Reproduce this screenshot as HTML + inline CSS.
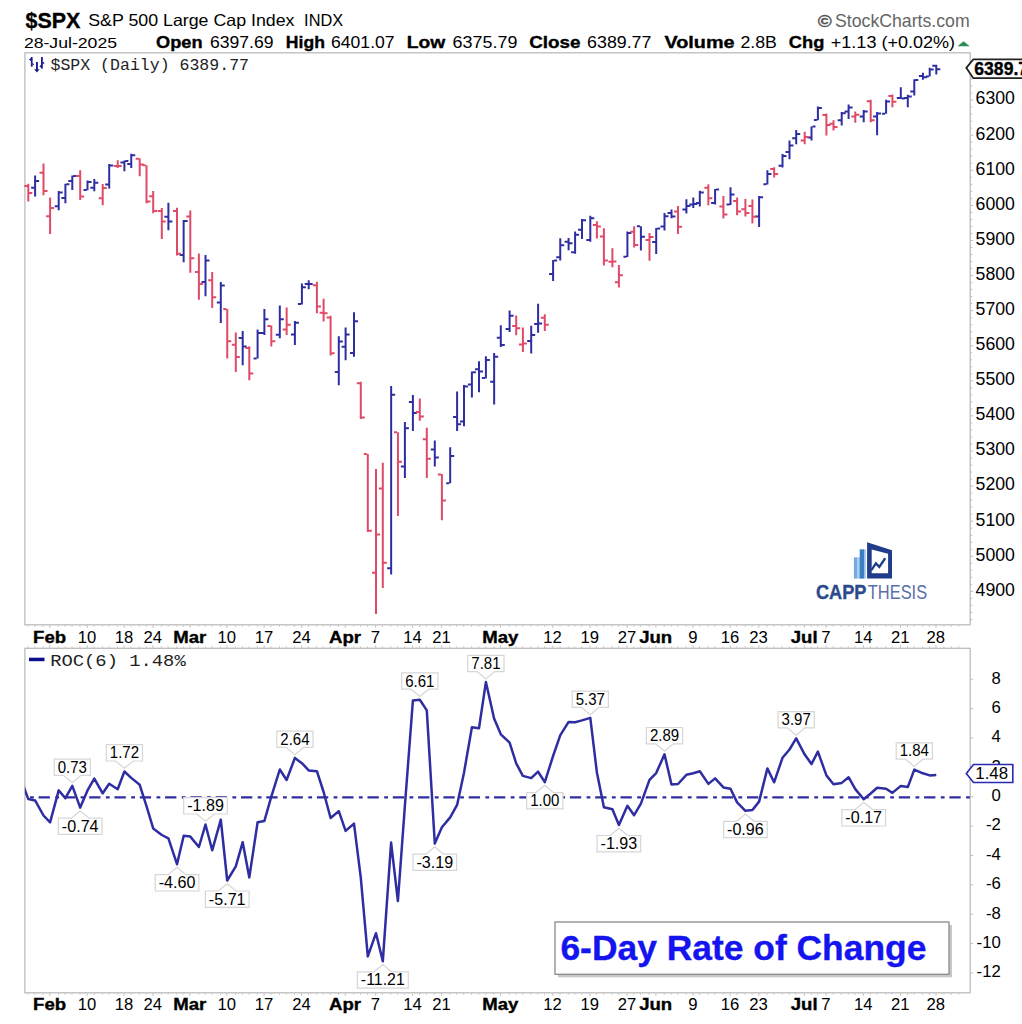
<!DOCTYPE html>
<html><head><meta charset="utf-8"><style>
html,body{margin:0;padding:0;background:#fff;}
svg{display:block;}
</style></head><body>
<svg width="1022" height="1024" viewBox="0 0 1022 1024">
<rect width="1022" height="1024" fill="#fff"/>
<text x="25.5" y="28.0" font-family="Liberation Sans" font-size="21.5" font-weight="bold" stroke="#000" stroke-width="0.35" fill="#000" textLength="54.8" lengthAdjust="spacingAndGlyphs">$SPX</text>
<text x="88.2" y="26.2" font-family="Liberation Sans" font-size="16.5" fill="#000" textLength="206.3" lengthAdjust="spacingAndGlyphs">S&amp;P 500 Large Cap Index</text>
<text x="304.1" y="26.4" font-family="Liberation Sans" font-size="16" fill="#000" textLength="39.0" lengthAdjust="spacingAndGlyphs">INDX</text>
<text x="817.8" y="26.8" font-family="Liberation Sans" font-size="16" font-weight="bold" stroke="#555" stroke-width="0.35" fill="#555" textLength="14.0" lengthAdjust="spacingAndGlyphs">©</text>
<text x="835.0" y="26.6" font-family="Liberation Sans" font-size="19" fill="#666" textLength="134.7" lengthAdjust="spacingAndGlyphs">StockCharts.com</text>
<text x="23.9" y="47.6" font-family="Liberation Sans" font-size="15.5" fill="#000" textLength="93.1" lengthAdjust="spacingAndGlyphs">28-Jul-2025</text>
<text x="156.1" y="47.6" font-family="Liberation Sans" font-size="16.5" font-weight="bold" stroke="#000" stroke-width="0.35" fill="#000" textLength="46.5" lengthAdjust="spacingAndGlyphs">Open</text>
<text x="209.9" y="47.6" font-family="Liberation Sans" font-size="15.8" fill="#000" textLength="63.6" lengthAdjust="spacingAndGlyphs">6397.69</text>
<text x="285.8" y="47.6" font-family="Liberation Sans" font-size="16.5" font-weight="bold" stroke="#000" stroke-width="0.35" fill="#000" textLength="39.1" lengthAdjust="spacingAndGlyphs">High</text>
<text x="331.0" y="47.6" font-family="Liberation Sans" font-size="15.8" fill="#000" textLength="63.6" lengthAdjust="spacingAndGlyphs">6401.07</text>
<text x="406.8" y="47.6" font-family="Liberation Sans" font-size="16.5" font-weight="bold" stroke="#000" stroke-width="0.35" fill="#000" textLength="38.5" lengthAdjust="spacingAndGlyphs">Low</text>
<text x="452.6" y="47.6" font-family="Liberation Sans" font-size="15.8" fill="#000" textLength="64.8" lengthAdjust="spacingAndGlyphs">6375.79</text>
<text x="529.2" y="47.6" font-family="Liberation Sans" font-size="16.5" font-weight="bold" stroke="#000" stroke-width="0.35" fill="#000" textLength="51.3" lengthAdjust="spacingAndGlyphs">Close</text>
<text x="587.1" y="47.6" font-family="Liberation Sans" font-size="15.8" fill="#000" textLength="64.3" lengthAdjust="spacingAndGlyphs">6389.77</text>
<text x="664.5" y="47.6" font-family="Liberation Sans" font-size="16.5" font-weight="bold" stroke="#000" stroke-width="0.35" fill="#000" textLength="70.1" lengthAdjust="spacingAndGlyphs">Volume</text>
<text x="740.4" y="47.6" font-family="Liberation Sans" font-size="15.8" fill="#000" textLength="36.5" lengthAdjust="spacingAndGlyphs">2.8B</text>
<text x="788.8" y="47.6" font-family="Liberation Sans" font-size="16.5" font-weight="bold" stroke="#000" stroke-width="0.35" fill="#000" textLength="35.6" lengthAdjust="spacingAndGlyphs">Chg</text>
<text x="830.8" y="47.6" font-family="Liberation Sans" font-size="15.8" fill="#000" textLength="124.3" lengthAdjust="spacingAndGlyphs">+1.13 (+0.02%)</text>
<polygon points="957.5,46.3 963.6,41.2 969.7,46.3" fill="#2e8b57"/>
<rect x="24.9" y="52.8" width="945.3" height="572.0" fill="none" stroke="#bcbcbc" stroke-width="1.3"/>
<path d="M970.2,619.5h2 M970.2,612.5h2 M970.2,605.4h2 M970.2,598.4h2 M970.2,591.4h3 M970.2,584.4h2 M970.2,577.4h2 M970.2,570.3h2 M970.2,563.3h2 M970.2,556.3h3 M970.2,549.3h2 M970.2,542.3h2 M970.2,535.3h2 M970.2,528.2h2 M970.2,521.2h3 M970.2,514.2h2 M970.2,507.2h2 M970.2,500.2h2 M970.2,493.1h2 M970.2,486.1h3 M970.2,479.1h2 M970.2,472.1h2 M970.2,465.1h2 M970.2,458.0h2 M970.2,451.0h3 M970.2,444.0h2 M970.2,437.0h2 M970.2,430.0h2 M970.2,423.0h2 M970.2,415.9h3 M970.2,408.9h2 M970.2,401.9h2 M970.2,394.9h2 M970.2,387.9h2 M970.2,380.8h3 M970.2,373.8h2 M970.2,366.8h2 M970.2,359.8h2 M970.2,352.8h2 M970.2,345.8h3 M970.2,338.7h2 M970.2,331.7h2 M970.2,324.7h2 M970.2,317.7h2 M970.2,310.7h3 M970.2,303.6h2 M970.2,296.6h2 M970.2,289.6h2 M970.2,282.6h2 M970.2,275.6h3 M970.2,268.5h2 M970.2,261.5h2 M970.2,254.5h2 M970.2,247.5h2 M970.2,240.5h3 M970.2,233.5h2 M970.2,226.4h2 M970.2,219.4h2 M970.2,212.4h2 M970.2,205.4h3 M970.2,198.4h2 M970.2,191.3h2 M970.2,184.3h2 M970.2,177.3h2 M970.2,170.3h3 M970.2,163.3h2 M970.2,156.2h2 M970.2,149.2h2 M970.2,142.2h2 M970.2,135.2h3 M970.2,128.2h2 M970.2,121.2h2 M970.2,114.1h2 M970.2,107.1h2 M970.2,100.1h3 M970.2,93.1h2 M970.2,86.1h2 M970.2,79.0h2 M970.2,72.0h2 M970.2,65.0h3" stroke="#bcbcbc" stroke-width="1" fill="none"/>
<text x="975.6" y="595.7" font-family="Liberation Sans" font-size="17.5" fill="#000" textLength="39.3" lengthAdjust="spacingAndGlyphs">4900</text>
<text x="975.6" y="560.6" font-family="Liberation Sans" font-size="17.5" fill="#000" textLength="39.3" lengthAdjust="spacingAndGlyphs">5000</text>
<text x="975.6" y="525.5" font-family="Liberation Sans" font-size="17.5" fill="#000" textLength="39.3" lengthAdjust="spacingAndGlyphs">5100</text>
<text x="975.6" y="490.4" font-family="Liberation Sans" font-size="17.5" fill="#000" textLength="39.3" lengthAdjust="spacingAndGlyphs">5200</text>
<text x="975.6" y="455.3" font-family="Liberation Sans" font-size="17.5" fill="#000" textLength="39.3" lengthAdjust="spacingAndGlyphs">5300</text>
<text x="975.6" y="420.2" font-family="Liberation Sans" font-size="17.5" fill="#000" textLength="39.3" lengthAdjust="spacingAndGlyphs">5400</text>
<text x="975.6" y="385.1" font-family="Liberation Sans" font-size="17.5" fill="#000" textLength="39.3" lengthAdjust="spacingAndGlyphs">5500</text>
<text x="975.6" y="350.1" font-family="Liberation Sans" font-size="17.5" fill="#000" textLength="39.3" lengthAdjust="spacingAndGlyphs">5600</text>
<text x="975.6" y="315.0" font-family="Liberation Sans" font-size="17.5" fill="#000" textLength="39.3" lengthAdjust="spacingAndGlyphs">5700</text>
<text x="975.6" y="279.9" font-family="Liberation Sans" font-size="17.5" fill="#000" textLength="39.3" lengthAdjust="spacingAndGlyphs">5800</text>
<text x="975.6" y="244.8" font-family="Liberation Sans" font-size="17.5" fill="#000" textLength="39.3" lengthAdjust="spacingAndGlyphs">5900</text>
<text x="975.6" y="209.7" font-family="Liberation Sans" font-size="17.5" fill="#000" textLength="39.3" lengthAdjust="spacingAndGlyphs">6000</text>
<text x="975.6" y="174.6" font-family="Liberation Sans" font-size="17.5" fill="#000" textLength="39.3" lengthAdjust="spacingAndGlyphs">6100</text>
<text x="975.6" y="139.5" font-family="Liberation Sans" font-size="17.5" fill="#000" textLength="39.3" lengthAdjust="spacingAndGlyphs">6200</text>
<text x="975.6" y="104.4" font-family="Liberation Sans" font-size="17.5" fill="#000" textLength="39.3" lengthAdjust="spacingAndGlyphs">6300</text>
<path d="M28.0,625.4v1.3 M28.0,647.7v-1.3 M28.0,993.4v1.3 M34.8,625.4v1.3 M34.8,647.7v-1.3 M34.8,993.4v1.3 M43.2,625.4v1.3 M43.2,647.7v-1.3 M43.2,993.4v1.3 M49.8,625.4v2.3 M49.8,647.7v-2.3 M49.8,993.4v2.3 M58.4,625.4v1.3 M58.4,647.7v-1.3 M58.4,993.4v1.3 M65.1,625.4v1.3 M65.1,647.7v-1.3 M65.1,993.4v1.3 M72.0,625.4v1.3 M72.0,647.7v-1.3 M72.0,993.4v1.3 M79.9,625.4v1.3 M79.9,647.7v-1.3 M79.9,993.4v1.3 M87.2,625.4v2.3 M87.2,647.7v-2.3 M87.2,993.4v2.3 M94.0,625.4v1.3 M94.0,647.7v-1.3 M94.0,993.4v1.3 M102.4,625.4v1.3 M102.4,647.7v-1.3 M102.4,993.4v1.3 M108.9,625.4v1.3 M108.9,647.7v-1.3 M108.9,993.4v1.3 M117.4,625.4v1.3 M117.4,647.7v-1.3 M117.4,993.4v1.3 M124.1,625.4v2.3 M124.1,647.7v-2.3 M124.1,993.4v2.3 M130.9,625.4v1.3 M130.9,647.7v-1.3 M130.9,993.4v1.3 M139.4,625.4v1.3 M139.4,647.7v-1.3 M139.4,993.4v1.3 M146.2,625.4v1.3 M146.2,647.7v-1.3 M146.2,993.4v1.3 M152.9,625.4v2.3 M152.9,647.7v-2.3 M152.9,993.4v2.3 M161.5,625.4v1.3 M161.5,647.7v-1.3 M161.5,993.4v1.3 M168.1,625.4v1.3 M168.1,647.7v-1.3 M168.1,993.4v1.3 M176.7,625.4v1.3 M176.7,647.7v-1.3 M176.7,993.4v1.3 M183.3,625.4v1.3 M183.3,647.7v-1.3 M183.3,993.4v1.3 M190.0,625.4v2.3 M190.0,647.7v-2.3 M190.0,993.4v2.3 M198.6,625.4v1.3 M198.6,647.7v-1.3 M198.6,993.4v1.3 M205.2,625.4v1.3 M205.2,647.7v-1.3 M205.2,993.4v1.3 M211.9,625.4v1.3 M211.9,647.7v-1.3 M211.9,993.4v1.3 M220.5,625.4v1.3 M220.5,647.7v-1.3 M220.5,993.4v1.3 M226.9,625.4v2.3 M226.9,647.7v-2.3 M226.9,993.4v2.3 M235.5,625.4v1.3 M235.5,647.7v-1.3 M235.5,993.4v1.3 M242.4,625.4v1.3 M242.4,647.7v-1.3 M242.4,993.4v1.3 M249.0,625.4v1.3 M249.0,647.7v-1.3 M249.0,993.4v1.3 M257.3,625.4v1.3 M257.3,647.7v-1.3 M257.3,993.4v1.3 M264.1,625.4v2.3 M264.1,647.7v-2.3 M264.1,993.4v2.3 M271.0,625.4v1.3 M271.0,647.7v-1.3 M271.0,993.4v1.3 M279.5,625.4v1.3 M279.5,647.7v-1.3 M279.5,993.4v1.3 M286.3,625.4v1.3 M286.3,647.7v-1.3 M286.3,993.4v1.3 M294.6,625.4v1.3 M294.6,647.7v-1.3 M294.6,993.4v1.3 M301.6,625.4v2.3 M301.6,647.7v-2.3 M301.6,993.4v2.3 M308.4,625.4v1.3 M308.4,647.7v-1.3 M308.4,993.4v1.3 M316.6,625.4v1.3 M316.6,647.7v-1.3 M316.6,993.4v1.3 M323.3,625.4v1.3 M323.3,647.7v-1.3 M323.3,993.4v1.3 M330.3,625.4v1.3 M330.3,647.7v-1.3 M330.3,993.4v1.3 M338.5,625.4v1.3 M338.5,647.7v-1.3 M338.5,993.4v1.3 M345.3,625.4v2.3 M345.3,647.7v-2.3 M345.3,993.4v2.3 M353.7,625.4v1.3 M353.7,647.7v-1.3 M353.7,993.4v1.3 M360.5,625.4v1.3 M360.5,647.7v-1.3 M360.5,993.4v1.3 M367.5,625.4v1.3 M367.5,647.7v-1.3 M367.5,993.4v1.3 M375.7,625.4v2.3 M375.7,647.7v-2.3 M375.7,993.4v2.3 M382.5,625.4v1.3 M382.5,647.7v-1.3 M382.5,993.4v1.3 M390.8,625.4v1.3 M390.8,647.7v-1.3 M390.8,993.4v1.3 M397.6,625.4v1.3 M397.6,647.7v-1.3 M397.6,993.4v1.3 M404.6,625.4v1.3 M404.6,647.7v-1.3 M404.6,993.4v1.3 M412.6,625.4v2.3 M412.6,647.7v-2.3 M412.6,993.4v2.3 M419.5,625.4v1.3 M419.5,647.7v-1.3 M419.5,993.4v1.3 M426.5,625.4v1.3 M426.5,647.7v-1.3 M426.5,993.4v1.3 M434.5,625.4v1.3 M434.5,647.7v-1.3 M434.5,993.4v1.3 M441.6,625.4v2.3 M441.6,647.7v-2.3 M441.6,993.4v2.3 M449.9,625.4v1.3 M449.9,647.7v-1.3 M449.9,993.4v1.3 M456.8,625.4v1.3 M456.8,647.7v-1.3 M456.8,993.4v1.3 M463.7,625.4v1.3 M463.7,647.7v-1.3 M463.7,993.4v1.3 M471.6,625.4v1.3 M471.6,647.7v-1.3 M471.6,993.4v1.3 M478.7,625.4v1.3 M478.7,647.7v-1.3 M478.7,993.4v1.3 M485.6,625.4v1.3 M485.6,647.7v-1.3 M485.6,993.4v1.3 M493.8,625.4v1.3 M493.8,647.7v-1.3 M493.8,993.4v1.3 M500.5,625.4v2.3 M500.5,647.7v-2.3 M500.5,993.4v2.3 M509.3,625.4v1.3 M509.3,647.7v-1.3 M509.3,993.4v1.3 M515.9,625.4v1.3 M515.9,647.7v-1.3 M515.9,993.4v1.3 M522.6,625.4v1.3 M522.6,647.7v-1.3 M522.6,993.4v1.3 M530.9,625.4v1.3 M530.9,647.7v-1.3 M530.9,993.4v1.3 M537.8,625.4v1.3 M537.8,647.7v-1.3 M537.8,993.4v1.3 M544.5,625.4v1.3 M544.5,647.7v-1.3 M544.5,993.4v1.3 M552.8,625.4v2.3 M552.8,647.7v-2.3 M552.8,993.4v2.3 M560.0,625.4v1.3 M560.0,647.7v-1.3 M560.0,993.4v1.3 M568.3,625.4v1.3 M568.3,647.7v-1.3 M568.3,993.4v1.3 M574.8,625.4v1.3 M574.8,647.7v-1.3 M574.8,993.4v1.3 M581.7,625.4v1.3 M581.7,647.7v-1.3 M581.7,993.4v1.3 M590.0,625.4v2.3 M590.0,647.7v-2.3 M590.0,993.4v2.3 M596.6,625.4v1.3 M596.6,647.7v-1.3 M596.6,993.4v1.3 M603.6,625.4v1.3 M603.6,647.7v-1.3 M603.6,993.4v1.3 M612.1,625.4v1.3 M612.1,647.7v-1.3 M612.1,993.4v1.3 M618.6,625.4v1.3 M618.6,647.7v-1.3 M618.6,993.4v1.3 M627.1,625.4v2.3 M627.1,647.7v-2.3 M627.1,993.4v2.3 M633.9,625.4v1.3 M633.9,647.7v-1.3 M633.9,993.4v1.3 M640.6,625.4v1.3 M640.6,647.7v-1.3 M640.6,993.4v1.3 M649.2,625.4v1.3 M649.2,647.7v-1.3 M649.2,993.4v1.3 M655.9,625.4v2.3 M655.9,647.7v-2.3 M655.9,993.4v2.3 M664.2,625.4v1.3 M664.2,647.7v-1.3 M664.2,993.4v1.3 M671.2,625.4v1.3 M671.2,647.7v-1.3 M671.2,993.4v1.3 M677.7,625.4v1.3 M677.7,647.7v-1.3 M677.7,993.4v1.3 M686.1,625.4v1.3 M686.1,647.7v-1.3 M686.1,993.4v1.3 M693.0,625.4v2.3 M693.0,647.7v-2.3 M693.0,993.4v2.3 M699.5,625.4v1.3 M699.5,647.7v-1.3 M699.5,993.4v1.3 M708.1,625.4v1.3 M708.1,647.7v-1.3 M708.1,993.4v1.3 M714.8,625.4v1.3 M714.8,647.7v-1.3 M714.8,993.4v1.3 M723.1,625.4v1.3 M723.1,647.7v-1.3 M723.1,993.4v1.3 M730.2,625.4v2.3 M730.2,647.7v-2.3 M730.2,993.4v2.3 M736.8,625.4v1.3 M736.8,647.7v-1.3 M736.8,993.4v1.3 M745.1,625.4v1.3 M745.1,647.7v-1.3 M745.1,993.4v1.3 M752.1,625.4v1.3 M752.1,647.7v-1.3 M752.1,993.4v1.3 M758.8,625.4v2.3 M758.8,647.7v-2.3 M758.8,993.4v2.3 M767.1,625.4v1.3 M767.1,647.7v-1.3 M767.1,993.4v1.3 M773.9,625.4v1.3 M773.9,647.7v-1.3 M773.9,993.4v1.3 M782.2,625.4v1.3 M782.2,647.7v-1.3 M782.2,993.4v1.3 M789.2,625.4v1.3 M789.2,647.7v-1.3 M789.2,993.4v1.3 M795.9,625.4v1.3 M795.9,647.7v-1.3 M795.9,993.4v1.3 M804.4,625.4v2.3 M804.4,647.7v-2.3 M804.4,993.4v2.3 M811.2,625.4v1.3 M811.2,647.7v-1.3 M811.2,993.4v1.3 M817.6,625.4v1.3 M817.6,647.7v-1.3 M817.6,993.4v1.3 M826.1,625.4v2.3 M826.1,647.7v-2.3 M826.1,993.4v2.3 M833.2,625.4v1.3 M833.2,647.7v-1.3 M833.2,993.4v1.3 M841.4,625.4v1.3 M841.4,647.7v-1.3 M841.4,993.4v1.3 M848.3,625.4v1.3 M848.3,647.7v-1.3 M848.3,993.4v1.3 M855.0,625.4v1.3 M855.0,647.7v-1.3 M855.0,993.4v1.3 M863.4,625.4v2.3 M863.4,647.7v-2.3 M863.4,993.4v2.3 M870.4,625.4v1.3 M870.4,647.7v-1.3 M870.4,993.4v1.3 M876.8,625.4v1.3 M876.8,647.7v-1.3 M876.8,993.4v1.3 M885.8,625.4v1.3 M885.8,647.7v-1.3 M885.8,993.4v1.3 M892.1,625.4v1.3 M892.1,647.7v-1.3 M892.1,993.4v1.3 M900.5,625.4v2.3 M900.5,647.7v-2.3 M900.5,993.4v2.3 M907.5,625.4v1.3 M907.5,647.7v-1.3 M907.5,993.4v1.3 M914.0,625.4v1.3 M914.0,647.7v-1.3 M914.0,993.4v1.3 M922.6,625.4v1.3 M922.6,647.7v-1.3 M922.6,993.4v1.3 M929.4,625.4v1.3 M929.4,647.7v-1.3 M929.4,993.4v1.3 M936.0,625.4v2.3 M936.0,647.7v-2.3 M936.0,993.4v2.3 M943.9,625.4v1.3 M943.9,647.7v-1.3 M943.9,993.4v1.3 M951.3,625.4v1.3 M951.3,647.7v-1.3 M951.3,993.4v1.3 M958.7,625.4v1.3 M958.7,647.7v-1.3 M958.7,993.4v1.3" stroke="#bcbcbc" stroke-width="1" fill="none"/>
<g fill="#1a1a96"><rect x="30.9" y="57" width="1.7" height="9.7"/><path d="M31,57.9 L28.8,59.4 L31,60.9Z M32.5,62.8 L34.1,64.3 L32.5,65.8Z"/><rect x="36" y="62" width="1.9" height="8"/><path d="M34.1,69.2 L39.7,69.2 L36.9,72.4Z"/><rect x="41" y="57" width="1.8" height="11.6"/><path d="M42.7,61.4 L44.6,62.9 L42.7,64.4Z M41.1,64.7 L39.4,66.2 L41.1,67.7Z"/></g>
<text x="50.5" y="69.6" font-family="Liberation Mono" font-size="16.5" fill="#222" textLength="198.5" lengthAdjust="spacingAndGlyphs">$SPX (Daily) 6389.77</text>
<path d="M966.3,67.8 L973.3,59.4 H1024 V78.2 H973.3 Z" fill="#fff" stroke="#222" stroke-width="1.8"/>
<text x="974.3" y="75.2" font-family="Liberation Sans" font-size="17.5" font-weight="bold" stroke="#000" stroke-width="0.35" fill="#000" textLength="63.6" lengthAdjust="spacingAndGlyphs">6389.77</text>
<path d="M35.10,175.5V196.6 M31.10,187.8h3 M36.10,180.9h3 M58.70,190.9V210.2 M54.70,206.2h3 M59.70,192.6h3 M65.40,183.8V203.2 M61.40,197.9h3 M66.40,184.3h3 M72.30,175.5V190.0 M68.30,180.9h3 M73.30,175.9h3 M87.50,180.6V190.3 M83.50,189.9h3 M88.50,182.0h3 M94.30,179.1V191.3 M90.30,187.7h3 M95.30,182.7h3 M109.20,164.0V188.4 M105.20,184.5h3 M110.20,165.6h3 M124.40,160.5V171.3 M120.40,162.5h3 M125.40,161.0h3 M131.25,153.7V167.9 M127.25,164.0h3 M132.25,155.2h3 M168.40,202.7V230.3 M164.40,216.8h3 M169.40,221.5h3 M183.65,220.0V262.2 M179.65,255.1h3 M184.65,221.1h3 M205.50,255.1V296.2 M201.50,282.1h3 M206.50,260.4h3 M220.80,282.1V323.1 M216.80,302.6h3 M221.80,285.6h3 M242.70,331.0V365.2 M238.70,337.9h3 M243.70,346.4h3 M257.60,329.6V358.4 M253.60,358.4h3 M258.60,333.0h3 M264.40,309.0V334.9 M260.40,333.0h3 M265.40,319.3h3 M279.80,305.6V338.3 M275.80,334.7h3 M280.80,319.3h3 M294.90,320.9V344.9 M290.90,334.4h3 M295.90,322.7h3 M301.90,283.5V304.5 M297.90,304.0h3 M302.90,287.3h3 M308.70,280.3V289.3 M304.70,284.1h3 M309.70,284.1h3 M338.80,336.2V385.3 M334.80,371.9h3 M339.80,341.5h3 M345.60,327.4V360.2 M341.60,346.7h3 M346.60,334.6h3 M354.00,312.2V356.7 M350.00,353.1h3 M355.00,321.2h3 M391.15,386.0V574.6 M387.15,568.3h3 M392.15,394.8h3 M404.90,422.1V477.9 M400.90,466.5h3 M405.90,428.2h3 M412.90,395.1V431.0 M408.90,402.0h3 M413.90,413.1h3 M434.80,440.6V466.5 M430.80,449.5h3 M435.80,457.4h3 M450.20,447.2V483.2 M446.20,483.2h3 M451.20,456.0h3 M457.10,391.6V430.9 M453.10,417.0h3 M458.10,424.3h3 M464.00,384.9V426.3 M460.00,421.6h3 M465.00,386.6h3 M471.90,371.5V397.5 M467.90,384.5h3 M472.90,372.3h3 M479.00,361.3V392.3 M475.00,369.3h3 M480.00,371.5h3 M485.90,356.3V378.6 M481.90,378.0h3 M486.90,359.9h3 M494.15,353.0V404.6 M490.15,381.7h3 M495.15,356.8h3 M500.80,325.3V346.9 M496.80,337.8h3 M501.80,344.9h3 M509.60,310.4V332.0 M505.60,329.1h3 M510.60,315.8h3 M531.20,325.8V353.5 M527.20,341.1h3 M532.20,335.0h3 M538.10,303.7V332.8 M534.10,324.1h3 M539.10,323.4h3 M553.10,260.1V281.0 M549.10,273.9h3 M554.10,260.6h3 M560.25,238.2V260.6 M556.25,257.3h3 M561.25,245.3h3 M568.60,238.1V250.3 M564.60,241.8h3 M569.60,243.3h3 M575.10,231.4V253.7 M571.10,252.2h3 M576.10,234.8h3 M582.00,219.0V238.9 M578.00,229.8h3 M583.00,220.2h3 M590.30,215.8V241.8 M586.30,240.0h3 M591.30,218.3h3 M627.40,231.4V257.1 M623.40,256.8h3 M628.40,233.0h3 M640.90,226.2V250.6 M636.90,226.2h3 M641.90,236.8h3 M656.20,228.1V254.0 M652.20,242.1h3 M657.20,228.4h3 M664.50,213.0V230.4 M660.50,226.4h3 M665.50,216.3h3 M671.50,209.6V218.3 M667.50,213.0h3 M672.50,216.6h3 M686.40,199.3V213.5 M682.40,209.6h3 M687.40,206.1h3 M693.30,197.5V208.1 M689.30,204.4h3 M694.30,204.1h3 M699.80,190.7V206.6 M695.80,203.0h3 M700.80,192.6h3 M715.10,189.1V204.4 M711.10,203.0h3 M716.10,189.5h3 M730.50,187.3V204.9 M726.50,204.4h3 M731.50,194.4h3 M759.10,196.1V226.9 M755.10,216.4h3 M760.10,197.3h3 M767.40,170.3V184.4 M763.40,184.2h3 M768.40,173.9h3 M782.50,154.0V167.6 M778.50,165.7h3 M783.50,156.0h3 M789.50,140.6V159.3 M785.50,152.0h3 M790.50,145.5h3 M796.20,130.0V144.2 M792.20,138.3h3 M797.20,134.0h3 M811.50,126.6V140.6 M807.50,137.4h3 M812.50,126.6h3 M817.90,106.6V120.3 M813.90,120.1h3 M818.90,108.0h3 M841.70,112.0V125.4 M837.70,120.3h3 M842.70,113.2h3 M848.60,104.5V119.0 M844.60,111.5h3 M849.60,107.6h3 M863.70,109.9V122.3 M859.70,116.6h3 M864.70,111.5h3 M877.10,112.1V135.2 M873.10,116.6h3 M878.10,113.6h3 M886.10,99.7V113.7 M882.10,113.7h3 M887.10,101.5h3 M900.80,87.3V99.1 M896.80,98.1h3 M901.80,98.4h3 M907.80,94.8V107.2 M903.80,98.1h3 M908.80,96.6h3 M914.30,79.2V95.4 M910.30,91.6h3 M915.30,79.9h3 M922.90,72.8V79.8 M918.90,76.0h3 M923.90,77.2h3 M929.70,67.7V76.5 M925.70,76.5h3 M930.70,69.5h3 M936.30,64.8V74.5 M932.30,65.8h3 M937.30,69.3h3" stroke="#2e2ea2" stroke-width="2" fill="none"/>
<path d="M28.30,183.8V201.4 M24.30,185.9h3 M29.30,192.9h3 M43.50,163.6V195.3 M39.50,172.7h3 M44.50,190.9h3 M50.10,197.5V233.9 M46.10,216.3h3 M51.10,208.0h3 M80.20,170.3V200.1 M76.20,176.0h3 M81.20,196.5h3 M102.70,184.0V205.3 M98.70,198.2h3 M103.70,187.9h3 M117.70,160.3V167.9 M113.70,165.9h3 M118.70,165.9h3 M139.70,158.2V176.3 M135.70,158.8h3 M140.70,164.6h3 M146.50,165.2V203.3 M142.50,165.2h3 M147.50,201.5h3 M153.20,191.0V213.3 M149.20,196.3h3 M154.20,210.9h3 M161.80,208.0V239.1 M157.80,210.9h3 M162.80,221.5h3 M177.00,207.8V255.5 M173.00,210.9h3 M178.00,253.7h3 M190.30,210.5V272.7 M186.30,216.4h3 M191.30,258.3h3 M198.90,253.4V299.7 M194.90,272.1h3 M199.90,283.9h3 M212.20,271.9V307.9 M208.20,280.3h3 M213.20,297.3h3 M227.25,309.0V358.4 M223.25,309.0h3 M228.25,341.3h3 M235.80,332.5V372.0 M231.80,344.7h3 M236.80,356.9h3 M249.30,346.2V380.3 M245.30,348.1h3 M250.30,373.5h3 M271.30,325.6V346.6 M267.30,326.1h3 M272.30,341.3h3 M286.65,307.4V334.9 M282.65,329.6h3 M287.65,324.7h3 M316.90,281.7V313.3 M312.90,285.2h3 M317.90,306.5h3 M323.60,298.7V321.5 M319.60,312.7h3 M324.60,313.2h3 M330.60,315.7V355.5 M326.60,317.4h3 M331.60,353.2h3 M360.80,381.7V418.9 M356.80,383.3h3 M361.80,417.6h3 M367.80,454.1V532.0 M363.80,454.1h3 M368.80,530.8h3 M376.00,469.0V614.0 M372.00,572.7h3 M377.00,534.5h3 M382.80,462.7V588.1 M378.80,488.5h3 M383.80,562.8h3 M397.95,432.2V516.0 M393.95,432.2h3 M398.95,461.7h3 M419.80,398.6V420.8 M415.80,411.9h3 M420.80,416.6h3 M426.80,427.8V477.9 M422.80,439.2h3 M427.80,458.8h3 M441.90,474.0V520.3 M437.90,474.5h3 M442.90,500.6h3 M516.20,315.4V335.3 M512.20,326.1h3 M517.20,328.3h3 M522.90,327.5V351.9 M518.90,344.4h3 M523.90,343.6h3 M544.80,314.2V331.1 M540.80,317.8h3 M545.80,324.7h3 M596.90,221.3V238.6 M592.90,224.9h3 M597.90,226.6h3 M603.90,228.3V265.6 M599.90,236.6h3 M604.90,260.4h3 M612.40,248.3V267.2 M608.40,261.7h3 M613.40,261.5h3 M618.90,264.9V287.4 M614.90,282.2h3 M619.90,275.2h3 M634.15,226.2V247.4 M630.15,231.7h3 M635.15,245.0h3 M649.50,233.0V260.8 M645.50,240.1h3 M650.50,236.9h3 M678.00,206.1V234.0 M674.00,211.5h3 M679.00,226.8h3 M708.35,184.2V205.2 M704.35,187.8h3 M709.35,198.2h3 M723.40,195.9V218.6 M719.40,206.4h3 M724.40,214.6h3 M737.10,197.6V215.2 M733.10,201.0h3 M738.10,211.6h3 M745.40,199.1V216.6 M741.40,209.3h3 M746.40,212.9h3 M752.40,199.6V223.5 M748.40,205.9h3 M753.40,216.8h3 M774.15,167.3V177.6 M770.15,169.0h3 M775.15,174.0h3 M804.70,131.8V144.2 M800.70,140.6h3 M805.70,136.9h3 M826.40,113.4V135.4 M822.40,114.9h3 M827.40,125.0h3 M833.50,120.3V130.5 M829.50,123.7h3 M834.50,126.9h3 M855.30,111.5V122.8 M851.30,116.6h3 M856.30,114.8h3 M870.70,99.7V122.3 M866.70,101.3h3 M871.70,120.3h3 M892.40,94.6V107.2 M888.40,95.9h3 M893.40,101.7h3" stroke="#e04a66" stroke-width="2" fill="none"/>
<g><rect x="853.9" y="557.3" width="3.6" height="21.3" fill="#74abde"/><rect x="857.5" y="557.3" width="2.6" height="21.3" fill="#a9cbeb"/><rect x="859.7" y="549.3" width="4.4" height="29.3" fill="#3b7ec4"/><rect x="864.1" y="549.3" width="1.6" height="29.3" fill="#93bde6"/><path d="M867.1,542.2 L892,550.2 V578.6 H867.1 Z M871.7,549.5 V573.2 H888.1 V553.7 Z" fill="#1f3d8a" fill-rule="evenodd"/><path d="M871.9,569.3 L875.9,563.4 L879.3,566.9 L884.7,559" stroke="#1f3d8a" stroke-width="2.3" fill="none" stroke-linecap="round"/></g>
<text x="816.0" y="598.5" font-family="Liberation Sans" font-size="19.5" font-weight="bold" stroke="#2b4a8b" stroke-width="0.35" fill="#2b4a8b" textLength="50.5" lengthAdjust="spacingAndGlyphs">CAPP</text>
<text x="867.8" y="598.5" font-family="Liberation Sans" font-size="19.5" fill="#5a70a8" textLength="59.3" lengthAdjust="spacingAndGlyphs">THESIS</text>
<text x="49.6" y="642.6" font-family="Liberation Sans" font-size="16" font-weight="bold" stroke="#000" stroke-width="0.35" fill="#000" textLength="33.0" lengthAdjust="spacingAndGlyphs" text-anchor="middle">Feb</text>
<text x="87.0" y="642.6" font-family="Liberation Sans" font-size="16" fill="#000" textLength="18.5" lengthAdjust="spacingAndGlyphs" text-anchor="middle">10</text>
<text x="123.9" y="642.6" font-family="Liberation Sans" font-size="16" fill="#000" textLength="18.5" lengthAdjust="spacingAndGlyphs" text-anchor="middle">18</text>
<text x="152.7" y="642.6" font-family="Liberation Sans" font-size="16" fill="#000" textLength="18.5" lengthAdjust="spacingAndGlyphs" text-anchor="middle">24</text>
<text x="189.8" y="642.6" font-family="Liberation Sans" font-size="16" font-weight="bold" stroke="#000" stroke-width="0.35" fill="#000" textLength="33.0" lengthAdjust="spacingAndGlyphs" text-anchor="middle">Mar</text>
<text x="226.8" y="642.6" font-family="Liberation Sans" font-size="16" fill="#000" textLength="18.5" lengthAdjust="spacingAndGlyphs" text-anchor="middle">10</text>
<text x="263.9" y="642.6" font-family="Liberation Sans" font-size="16" fill="#000" textLength="18.5" lengthAdjust="spacingAndGlyphs" text-anchor="middle">17</text>
<text x="301.4" y="642.6" font-family="Liberation Sans" font-size="16" fill="#000" textLength="18.5" lengthAdjust="spacingAndGlyphs" text-anchor="middle">24</text>
<text x="345.1" y="642.6" font-family="Liberation Sans" font-size="16" font-weight="bold" stroke="#000" stroke-width="0.35" fill="#000" textLength="32.0" lengthAdjust="spacingAndGlyphs" text-anchor="middle">Apr</text>
<text x="375.5" y="642.6" font-family="Liberation Sans" font-size="16" fill="#000" textLength="9.3" lengthAdjust="spacingAndGlyphs" text-anchor="middle">7</text>
<text x="412.4" y="642.6" font-family="Liberation Sans" font-size="16" fill="#000" textLength="18.5" lengthAdjust="spacingAndGlyphs" text-anchor="middle">14</text>
<text x="441.4" y="642.6" font-family="Liberation Sans" font-size="16" fill="#000" textLength="18.5" lengthAdjust="spacingAndGlyphs" text-anchor="middle">21</text>
<text x="500.3" y="642.6" font-family="Liberation Sans" font-size="16" font-weight="bold" stroke="#000" stroke-width="0.35" fill="#000" textLength="36.1" lengthAdjust="spacingAndGlyphs" text-anchor="middle">May</text>
<text x="552.6" y="642.6" font-family="Liberation Sans" font-size="16" fill="#000" textLength="18.5" lengthAdjust="spacingAndGlyphs" text-anchor="middle">12</text>
<text x="589.8" y="642.6" font-family="Liberation Sans" font-size="16" fill="#000" textLength="18.5" lengthAdjust="spacingAndGlyphs" text-anchor="middle">19</text>
<text x="626.9" y="642.6" font-family="Liberation Sans" font-size="16" fill="#000" textLength="18.5" lengthAdjust="spacingAndGlyphs" text-anchor="middle">27</text>
<text x="655.7" y="642.6" font-family="Liberation Sans" font-size="16" font-weight="bold" stroke="#000" stroke-width="0.35" fill="#000" textLength="33.0" lengthAdjust="spacingAndGlyphs" text-anchor="middle">Jun</text>
<text x="692.8" y="642.6" font-family="Liberation Sans" font-size="16" fill="#000" textLength="9.3" lengthAdjust="spacingAndGlyphs" text-anchor="middle">9</text>
<text x="730.0" y="642.6" font-family="Liberation Sans" font-size="16" fill="#000" textLength="18.5" lengthAdjust="spacingAndGlyphs" text-anchor="middle">16</text>
<text x="758.6" y="642.6" font-family="Liberation Sans" font-size="16" fill="#000" textLength="18.5" lengthAdjust="spacingAndGlyphs" text-anchor="middle">23</text>
<text x="804.2" y="642.6" font-family="Liberation Sans" font-size="16" font-weight="bold" stroke="#000" stroke-width="0.35" fill="#000" textLength="26.8" lengthAdjust="spacingAndGlyphs" text-anchor="middle">Jul</text>
<text x="825.9" y="642.6" font-family="Liberation Sans" font-size="16" fill="#000" textLength="9.3" lengthAdjust="spacingAndGlyphs" text-anchor="middle">7</text>
<text x="863.2" y="642.6" font-family="Liberation Sans" font-size="16" fill="#000" textLength="18.5" lengthAdjust="spacingAndGlyphs" text-anchor="middle">14</text>
<text x="900.3" y="642.6" font-family="Liberation Sans" font-size="16" fill="#000" textLength="18.5" lengthAdjust="spacingAndGlyphs" text-anchor="middle">21</text>
<text x="935.8" y="642.6" font-family="Liberation Sans" font-size="16" fill="#000" textLength="18.5" lengthAdjust="spacingAndGlyphs" text-anchor="middle">28</text>
<text x="49.6" y="1010.4" font-family="Liberation Sans" font-size="16" font-weight="bold" stroke="#000" stroke-width="0.35" fill="#000" textLength="33.0" lengthAdjust="spacingAndGlyphs" text-anchor="middle">Feb</text>
<text x="87.0" y="1010.4" font-family="Liberation Sans" font-size="16" fill="#000" textLength="18.5" lengthAdjust="spacingAndGlyphs" text-anchor="middle">10</text>
<text x="123.9" y="1010.4" font-family="Liberation Sans" font-size="16" fill="#000" textLength="18.5" lengthAdjust="spacingAndGlyphs" text-anchor="middle">18</text>
<text x="152.7" y="1010.4" font-family="Liberation Sans" font-size="16" fill="#000" textLength="18.5" lengthAdjust="spacingAndGlyphs" text-anchor="middle">24</text>
<text x="189.8" y="1010.4" font-family="Liberation Sans" font-size="16" font-weight="bold" stroke="#000" stroke-width="0.35" fill="#000" textLength="33.0" lengthAdjust="spacingAndGlyphs" text-anchor="middle">Mar</text>
<text x="226.8" y="1010.4" font-family="Liberation Sans" font-size="16" fill="#000" textLength="18.5" lengthAdjust="spacingAndGlyphs" text-anchor="middle">10</text>
<text x="263.9" y="1010.4" font-family="Liberation Sans" font-size="16" fill="#000" textLength="18.5" lengthAdjust="spacingAndGlyphs" text-anchor="middle">17</text>
<text x="301.4" y="1010.4" font-family="Liberation Sans" font-size="16" fill="#000" textLength="18.5" lengthAdjust="spacingAndGlyphs" text-anchor="middle">24</text>
<text x="345.1" y="1010.4" font-family="Liberation Sans" font-size="16" font-weight="bold" stroke="#000" stroke-width="0.35" fill="#000" textLength="32.0" lengthAdjust="spacingAndGlyphs" text-anchor="middle">Apr</text>
<text x="375.5" y="1010.4" font-family="Liberation Sans" font-size="16" fill="#000" textLength="9.3" lengthAdjust="spacingAndGlyphs" text-anchor="middle">7</text>
<text x="412.4" y="1010.4" font-family="Liberation Sans" font-size="16" fill="#000" textLength="18.5" lengthAdjust="spacingAndGlyphs" text-anchor="middle">14</text>
<text x="441.4" y="1010.4" font-family="Liberation Sans" font-size="16" fill="#000" textLength="18.5" lengthAdjust="spacingAndGlyphs" text-anchor="middle">21</text>
<text x="500.3" y="1010.4" font-family="Liberation Sans" font-size="16" font-weight="bold" stroke="#000" stroke-width="0.35" fill="#000" textLength="36.1" lengthAdjust="spacingAndGlyphs" text-anchor="middle">May</text>
<text x="552.6" y="1010.4" font-family="Liberation Sans" font-size="16" fill="#000" textLength="18.5" lengthAdjust="spacingAndGlyphs" text-anchor="middle">12</text>
<text x="589.8" y="1010.4" font-family="Liberation Sans" font-size="16" fill="#000" textLength="18.5" lengthAdjust="spacingAndGlyphs" text-anchor="middle">19</text>
<text x="626.9" y="1010.4" font-family="Liberation Sans" font-size="16" fill="#000" textLength="18.5" lengthAdjust="spacingAndGlyphs" text-anchor="middle">27</text>
<text x="655.7" y="1010.4" font-family="Liberation Sans" font-size="16" font-weight="bold" stroke="#000" stroke-width="0.35" fill="#000" textLength="33.0" lengthAdjust="spacingAndGlyphs" text-anchor="middle">Jun</text>
<text x="692.8" y="1010.4" font-family="Liberation Sans" font-size="16" fill="#000" textLength="9.3" lengthAdjust="spacingAndGlyphs" text-anchor="middle">9</text>
<text x="730.0" y="1010.4" font-family="Liberation Sans" font-size="16" fill="#000" textLength="18.5" lengthAdjust="spacingAndGlyphs" text-anchor="middle">16</text>
<text x="758.6" y="1010.4" font-family="Liberation Sans" font-size="16" fill="#000" textLength="18.5" lengthAdjust="spacingAndGlyphs" text-anchor="middle">23</text>
<text x="804.2" y="1010.4" font-family="Liberation Sans" font-size="16" font-weight="bold" stroke="#000" stroke-width="0.35" fill="#000" textLength="26.8" lengthAdjust="spacingAndGlyphs" text-anchor="middle">Jul</text>
<text x="825.9" y="1010.4" font-family="Liberation Sans" font-size="16" fill="#000" textLength="9.3" lengthAdjust="spacingAndGlyphs" text-anchor="middle">7</text>
<text x="863.2" y="1010.4" font-family="Liberation Sans" font-size="16" fill="#000" textLength="18.5" lengthAdjust="spacingAndGlyphs" text-anchor="middle">14</text>
<text x="900.3" y="1010.4" font-family="Liberation Sans" font-size="16" fill="#000" textLength="18.5" lengthAdjust="spacingAndGlyphs" text-anchor="middle">21</text>
<text x="935.8" y="1010.4" font-family="Liberation Sans" font-size="16" fill="#000" textLength="18.5" lengthAdjust="spacingAndGlyphs" text-anchor="middle">28</text>
<rect x="24.9" y="648.3" width="945.3" height="344.5" fill="none" stroke="#bcbcbc" stroke-width="1.3"/>
<path d="M970.2,972.9h3 M970.2,943.6h3 M970.2,914.2h3 M970.2,884.8h3 M970.2,855.4h3 M970.2,826.1h3 M970.2,796.7h3 M970.2,767.3h3 M970.2,738.0h3 M970.2,708.6h3 M970.2,679.2h3" stroke="#bcbcbc" stroke-width="1" fill="none"/>
<text x="1000.8" y="977.2" font-family="Liberation Sans" font-size="17" fill="#000" textLength="24.2" lengthAdjust="spacingAndGlyphs" text-anchor="end">-12</text>
<text x="1000.8" y="947.9" font-family="Liberation Sans" font-size="17" fill="#000" textLength="24.2" lengthAdjust="spacingAndGlyphs" text-anchor="end">-10</text>
<text x="1000.8" y="918.5" font-family="Liberation Sans" font-size="17" fill="#000" textLength="14.9" lengthAdjust="spacingAndGlyphs" text-anchor="end">-8</text>
<text x="1000.8" y="889.1" font-family="Liberation Sans" font-size="17" fill="#000" textLength="14.9" lengthAdjust="spacingAndGlyphs" text-anchor="end">-6</text>
<text x="1000.8" y="859.7" font-family="Liberation Sans" font-size="17" fill="#000" textLength="14.9" lengthAdjust="spacingAndGlyphs" text-anchor="end">-4</text>
<text x="1000.8" y="830.4" font-family="Liberation Sans" font-size="17" fill="#000" textLength="14.9" lengthAdjust="spacingAndGlyphs" text-anchor="end">-2</text>
<text x="1000.8" y="801.0" font-family="Liberation Sans" font-size="17" fill="#000" textLength="9.3" lengthAdjust="spacingAndGlyphs" text-anchor="end">0</text>
<text x="1000.8" y="771.6" font-family="Liberation Sans" font-size="17" fill="#000" textLength="9.3" lengthAdjust="spacingAndGlyphs" text-anchor="end">2</text>
<text x="1000.8" y="742.3" font-family="Liberation Sans" font-size="17" fill="#000" textLength="9.3" lengthAdjust="spacingAndGlyphs" text-anchor="end">4</text>
<text x="1000.8" y="712.9" font-family="Liberation Sans" font-size="17" fill="#000" textLength="9.3" lengthAdjust="spacingAndGlyphs" text-anchor="end">6</text>
<text x="1000.8" y="683.5" font-family="Liberation Sans" font-size="17" fill="#000" textLength="9.3" lengthAdjust="spacingAndGlyphs" text-anchor="end">8</text>
<rect x="29" y="657.7" width="15.5" height="3.5" fill="#0c0c8c"/>
<text x="50.2" y="666.1" font-family="Liberation Mono" font-size="17" fill="#222" textLength="135.5" lengthAdjust="spacingAndGlyphs">ROC(6) 1.48%</text>
<line x1="24.9" y1="797.3" x2="970.2" y2="797.3" stroke="#2e2ea2" stroke-width="2.2" stroke-dasharray="11.3 5.4 3.8 4.8" stroke-dashoffset="11.6"/>
<clipPath id="rc"><rect x="24.9" y="648.3" width="945.3000000000001" height="344.5"/></clipPath>
<path d="M20.9,779.3 L28.3,799.1 L35.1,800.4 L43.5,815.5 L50.1,822.4 L58.7,790.4 L65.4,798.2 L72.3,785.9 L80.2,807.6 L87.5,790.4 L94.3,778.6 L102.7,793.3 L109.2,783.7 L117.7,789.2 L124.4,771.5 L131.2,777.9 L139.7,784.8 L146.5,806.1 L153.2,828.4 L161.8,835.0 L168.4,838.3 L177.0,864.2 L183.7,835.8 L190.3,836.6 L198.9,847.0 L205.5,824.5 L212.2,850.3 L220.8,819.6 L227.2,880.5 L235.8,866.4 L242.7,842.2 L249.3,877.4 L257.6,822.2 L264.4,820.9 L271.3,796.7 L279.8,769.5 L286.6,780.0 L294.9,757.9 L301.9,763.2 L308.7,770.4 L316.9,771.2 L323.6,792.0 L330.6,818.0 L338.8,811.1 L345.6,830.9 L354.0,823.6 L360.8,877.9 L367.8,956.4 L376.0,933.2 L382.8,961.3 L391.1,842.6 L397.9,901.0 L404.9,805.7 L412.9,700.6 L419.8,699.7 L426.8,710.4 L434.8,843.6 L441.9,827.3 L450.2,817.4 L457.1,804.9 L464.0,772.7 L471.9,727.2 L479.0,728.3 L485.9,682.1 L494.1,718.6 L500.8,734.3 L509.6,742.6 L516.2,763.4 L522.9,775.9 L531.2,778.1 L538.1,771.7 L544.8,782.1 L553.1,756.0 L560.2,735.3 L568.6,721.9 L575.1,722.2 L582.0,720.4 L590.3,717.9 L596.9,772.5 L603.9,807.2 L612.4,809.3 L618.9,825.0 L627.4,805.8 L634.1,815.2 L640.9,803.7 L649.5,779.8 L656.2,773.1 L664.5,754.3 L671.5,784.5 L678.0,784.0 L686.4,774.8 L693.3,773.3 L699.8,771.3 L708.4,783.9 L715.1,778.4 L723.4,787.4 L730.5,788.7 L737.1,802.4 L745.4,810.8 L752.4,810.0 L759.1,801.6 L767.4,768.4 L774.1,782.3 L782.5,757.8 L789.5,749.5 L796.2,738.4 L804.7,754.6 L811.5,764.1 L817.9,751.6 L826.4,775.4 L833.5,784.2 L841.7,782.9 L848.6,777.2 L855.3,789.1 L863.7,799.2 L870.7,793.5 L877.1,787.7 L886.1,788.7 L892.4,792.9 L900.8,785.9 L907.8,787.1 L914.3,769.6 L922.9,773.3 L929.7,775.4 L936.3,775.0" stroke="#2e2ea2" stroke-width="2.5" fill="none" stroke-linejoin="round" clip-path="url(#rc)"/>
<path d="M54.2,759.1 H90.4 V775.4 H81.1 L72.3,782.7 L63.5,775.4 H54.2 Z" fill="#fff" stroke="#d6d6d6" stroke-width="1.2"/>
<text x="72.3" y="772.7" font-family="Liberation Sans" font-size="16.5" fill="#000" textLength="29.2" lengthAdjust="spacingAndGlyphs" text-anchor="middle">0.73</text>
<path d="M58.4,834.4 H102.0 V818.1 H89.0 L80.2,810.8 L71.4,818.1 H58.4 Z" fill="#fff" stroke="#d6d6d6" stroke-width="1.2"/>
<text x="80.2" y="831.7" font-family="Liberation Sans" font-size="16.5" fill="#000" textLength="36.7" lengthAdjust="spacingAndGlyphs" text-anchor="middle">-0.74</text>
<path d="M106.3,744.7 H142.5 V761.0 H133.2 L124.4,768.3 L115.6,761.0 H106.3 Z" fill="#fff" stroke="#d6d6d6" stroke-width="1.2"/>
<text x="124.4" y="758.3" font-family="Liberation Sans" font-size="16.5" fill="#000" textLength="29.2" lengthAdjust="spacingAndGlyphs" text-anchor="middle">1.72</text>
<path d="M155.2,891.0 H198.8 V874.7 H185.8 L177.0,867.4 L168.2,874.7 H155.2 Z" fill="#fff" stroke="#d6d6d6" stroke-width="1.2"/>
<text x="177.0" y="888.3" font-family="Liberation Sans" font-size="16.5" fill="#000" textLength="36.7" lengthAdjust="spacingAndGlyphs" text-anchor="middle">-4.60</text>
<path d="M183.7,797.7 H227.3 V814.0 H214.3 L205.5,821.3 L196.7,814.0 H183.7 Z" fill="#fff" stroke="#d6d6d6" stroke-width="1.2"/>
<text x="205.5" y="811.3" font-family="Liberation Sans" font-size="16.5" fill="#000" textLength="36.7" lengthAdjust="spacingAndGlyphs" text-anchor="middle">-1.89</text>
<path d="M205.4,907.3 H249.1 V891.0 H236.1 L227.2,883.7 L218.4,891.0 H205.4 Z" fill="#fff" stroke="#d6d6d6" stroke-width="1.2"/>
<text x="227.2" y="904.6" font-family="Liberation Sans" font-size="16.5" fill="#000" textLength="36.7" lengthAdjust="spacingAndGlyphs" text-anchor="middle">-5.71</text>
<path d="M276.8,731.1 H313.0 V747.4 H303.7 L294.9,754.7 L286.1,747.4 H276.8 Z" fill="#fff" stroke="#d6d6d6" stroke-width="1.2"/>
<text x="294.9" y="744.7" font-family="Liberation Sans" font-size="16.5" fill="#000" textLength="29.2" lengthAdjust="spacingAndGlyphs" text-anchor="middle">2.64</text>
<path d="M357.3,988.1 H408.3 V971.8 H391.6 L382.8,964.5 L374.0,971.8 H357.3 Z" fill="#fff" stroke="#d6d6d6" stroke-width="1.2"/>
<text x="382.8" y="985.4" font-family="Liberation Sans" font-size="16.5" fill="#000" textLength="43.9" lengthAdjust="spacingAndGlyphs" text-anchor="middle">-11.21</text>
<path d="M401.7,672.9 H437.9 V689.2 H428.6 L419.8,696.5 L411.0,689.2 H401.7 Z" fill="#fff" stroke="#d6d6d6" stroke-width="1.2"/>
<text x="419.8" y="686.5" font-family="Liberation Sans" font-size="16.5" fill="#000" textLength="29.2" lengthAdjust="spacingAndGlyphs" text-anchor="middle">6.61</text>
<path d="M413.0,870.4 H456.6 V854.1 H443.6 L434.8,846.8 L426.0,854.1 H413.0 Z" fill="#fff" stroke="#d6d6d6" stroke-width="1.2"/>
<text x="434.8" y="867.7" font-family="Liberation Sans" font-size="16.5" fill="#000" textLength="36.7" lengthAdjust="spacingAndGlyphs" text-anchor="middle">-3.19</text>
<path d="M467.8,655.3 H504.0 V671.6 H494.7 L485.9,678.9 L477.1,671.6 H467.8 Z" fill="#fff" stroke="#d6d6d6" stroke-width="1.2"/>
<text x="485.9" y="668.9" font-family="Liberation Sans" font-size="16.5" fill="#000" textLength="29.2" lengthAdjust="spacingAndGlyphs" text-anchor="middle">7.81</text>
<path d="M526.7,808.9 H562.9 V792.6 H553.6 L544.8,785.3 L536.0,792.6 H526.7 Z" fill="#fff" stroke="#d6d6d6" stroke-width="1.2"/>
<text x="544.8" y="806.2" font-family="Liberation Sans" font-size="16.5" fill="#000" textLength="29.2" lengthAdjust="spacingAndGlyphs" text-anchor="middle">1.00</text>
<path d="M572.2,691.1 H608.4 V707.4 H599.1 L590.3,714.7 L581.5,707.4 H572.2 Z" fill="#fff" stroke="#d6d6d6" stroke-width="1.2"/>
<text x="590.3" y="704.7" font-family="Liberation Sans" font-size="16.5" fill="#000" textLength="29.2" lengthAdjust="spacingAndGlyphs" text-anchor="middle">5.37</text>
<path d="M597.1,851.8 H640.7 V835.5 H627.7 L618.9,828.2 L610.1,835.5 H597.1 Z" fill="#fff" stroke="#d6d6d6" stroke-width="1.2"/>
<text x="618.9" y="849.1" font-family="Liberation Sans" font-size="16.5" fill="#000" textLength="36.7" lengthAdjust="spacingAndGlyphs" text-anchor="middle">-1.93</text>
<path d="M646.4,727.5 H682.6 V743.8 H673.3 L664.5,751.1 L655.7,743.8 H646.4 Z" fill="#fff" stroke="#d6d6d6" stroke-width="1.2"/>
<text x="664.5" y="741.1" font-family="Liberation Sans" font-size="16.5" fill="#000" textLength="29.2" lengthAdjust="spacingAndGlyphs" text-anchor="middle">2.89</text>
<path d="M723.6,837.6 H767.2 V821.3 H754.2 L745.4,814.0 L736.6,821.3 H723.6 Z" fill="#fff" stroke="#d6d6d6" stroke-width="1.2"/>
<text x="745.4" y="834.9" font-family="Liberation Sans" font-size="16.5" fill="#000" textLength="36.7" lengthAdjust="spacingAndGlyphs" text-anchor="middle">-0.96</text>
<path d="M778.1,711.6 H814.3 V727.9 H805.0 L796.2,735.2 L787.4,727.9 H778.1 Z" fill="#fff" stroke="#d6d6d6" stroke-width="1.2"/>
<text x="796.2" y="725.2" font-family="Liberation Sans" font-size="16.5" fill="#000" textLength="29.2" lengthAdjust="spacingAndGlyphs" text-anchor="middle">3.97</text>
<path d="M841.9,826.0 H885.5 V809.7 H872.5 L863.7,802.4 L854.9,809.7 H841.9 Z" fill="#fff" stroke="#d6d6d6" stroke-width="1.2"/>
<text x="863.7" y="823.3" font-family="Liberation Sans" font-size="16.5" fill="#000" textLength="36.7" lengthAdjust="spacingAndGlyphs" text-anchor="middle">-0.17</text>
<path d="M896.2,742.8 H932.4 V759.1 H923.1 L914.3,766.4 L905.5,759.1 H896.2 Z" fill="#fff" stroke="#d6d6d6" stroke-width="1.2"/>
<text x="914.3" y="756.4" font-family="Liberation Sans" font-size="16.5" fill="#000" textLength="29.2" lengthAdjust="spacingAndGlyphs" text-anchor="middle">1.84</text>
<path d="M966.3,773.5 L973.5,764.5 H1012.8 V782.5 H973.5 Z" fill="#fff" stroke="#2828b0" stroke-width="1.6"/>
<text x="975.3" y="779.3" font-family="Liberation Sans" font-size="16.5" fill="#000" textLength="32.8" lengthAdjust="spacingAndGlyphs">1.48</text>
<rect x="558" y="925" width="394" height="52.3" fill="#c8c8c8"/>
<rect x="555" y="922" width="394" height="52.3" fill="#fff" stroke="#8a8a8a" stroke-width="1.3"/>
<text x="560.4" y="960.2" font-family="Liberation Sans" font-size="35" font-weight="bold" stroke="#1414f0" stroke-width="0.35" fill="#1414f0" textLength="366.0" lengthAdjust="spacingAndGlyphs">6-Day Rate of Change</text>
</svg>
</body></html>
